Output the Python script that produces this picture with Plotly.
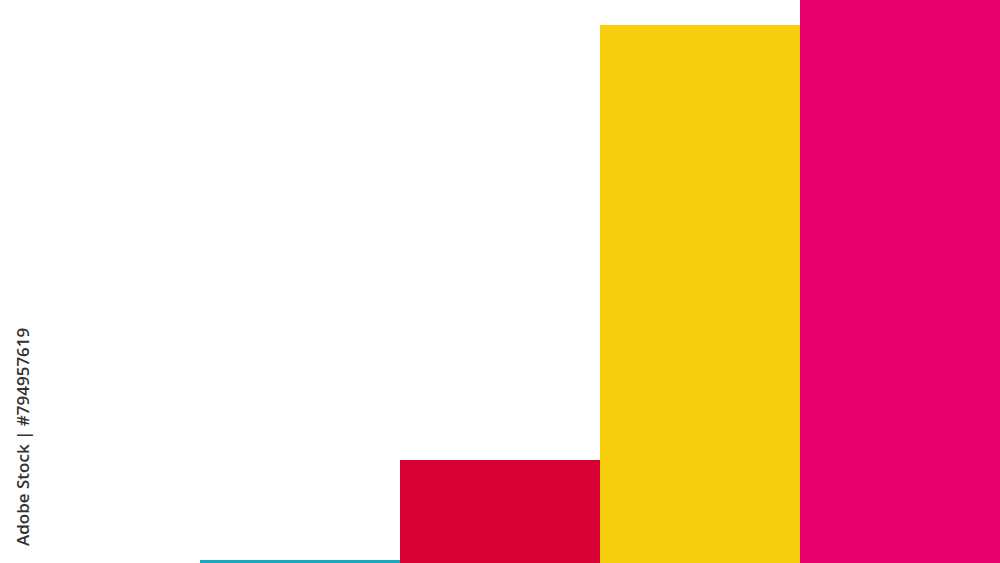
import plotly.graph_objects as go

categories = ["A", "B", "C", "D", "E"]
values = [0, 3, 103, 538, 600]
colors = ["#ffffff", "#1ba8bd", "#d70033", "#f8cf0e", "#e8006d"]

fig = go.Figure(go.Bar(
    x=categories, y=values,
    marker=dict(color=colors, line=dict(width=0)),
    hoverinfo="skip",
))
fig.update_layout(
    width=1000, height=563,
    margin=dict(l=0, r=0, t=0, b=0),
    paper_bgcolor="white", plot_bgcolor="white",
    bargap=0, showlegend=False,
    xaxis=dict(visible=False, range=[-0.5, 4.5]),
    yaxis=dict(visible=False, range=[0, 563]),
)
fig.add_annotation(
    text="Adobe Stock | #794957619",
    xref="paper", yref="paper", x=0.022, y=(563 - 437) / 563,
    xanchor="center", yanchor="middle",
    showarrow=False, textangle=-90,
    font=dict(family="Open Sans", size=17, color="#333333", weight=600),
)
fig.write_html(
    "out.html",
    config={"displayModeBar": False},
    post_script="document.body.style.margin='0';document.body.style.overflow='hidden';",
)
